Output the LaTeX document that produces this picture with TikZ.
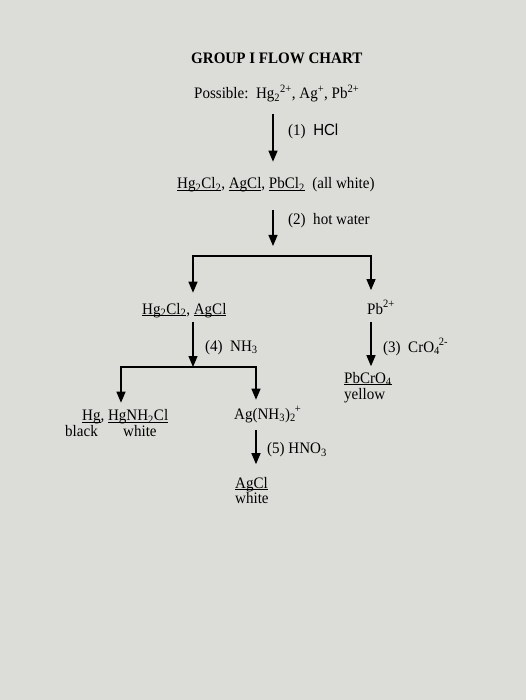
\documentclass[tikz,border=0pt]{standalone}
\usepackage{fontspec}
\setmainfont{Liberation Serif}[FakeStretch=0.94]
\newfontfamily\sanslab{Liberation Sans}[FakeStretch=0.94]
\usetikzlibrary{arrows.meta,positioning}
\definecolor{paper}{RGB}{220,220,216}
\newcommand\chemul[1]{\setbox0\hbox{#1}\rlap{\rule[-2pt]{\wd0}{0.8pt}}\box0}
\tikzset
{
    chem/.style = {inner sep=0pt, anchor=base west, font=\fontsize{16}{19}\selectfont},
    flow/.style = {-{Triangle[length=11pt,width=9pt]}, line width=1.2pt},
    branch/.style = {{Triangle[length=11pt,width=9pt]}-{Triangle[length=11pt,width=9pt]}, line width=1.2pt, line join=miter}
}
\begin{document}
\begin{tikzpicture}[x=1pt,y=-1pt]
\fill[paper] (0,0) rectangle (526,700);
\useasboundingbox (0,0) rectangle (526,700);
\node [chem] (title) at (191,64) {\textbf{GROUP I FLOW CHART}};
\node [chem] (possible) at (194,99) {Possible:\ \ Hg\textsubscript{2}\textsuperscript{2+}, Ag\textsuperscript{+}, Pb\textsuperscript{2+}};
\node [chem] (chlorides) at (177,189) {\chemul{Hg\textsubscript{2}Cl\textsubscript{2}}, \chemul{AgCl}, \chemul{PbCl\textsubscript{2}}\ \ (all white)};
\node [chem] (hgagcl) at (142,314) {\chemul{Hg\textsubscript{2}Cl\textsubscript{2}}, \chemul{AgCl}};
\node [chem] (pb) at (367,314) {Pb\textsuperscript{2+}};
\node [chem] (pbcro4) at (344,383) {\chemul{PbCrO\textsubscript{4}}};
\node [chem] (yellow) at (344,399) {yellow};
\node [chem] (hg) at (82,420.5) {\chemul{Hg}, \chemul{HgNH\textsubscript{2}Cl}};
\node [chem] (black) at (65,436.5) {black};
\node [chem] (hgwhite) at (123,436.5) {white};
\node [chem] (agnh) at (234,419) {Ag(NH\textsubscript{3})\textsubscript{2}\kern-1pt\textsuperscript{+}};
\node [chem] (agcl) at (235,488) {\chemul{AgCl}};
\node [chem] (agwhite) at (235,503) {white};
\node [chem] (hcl) at (288,136) {(1)\ \ {\sanslab HCl}};
\node [chem] (hot) at (288,225) {(2)\ \ hot water};
\node [chem] (nh3) at (205,351) {(4)\ \ NH\textsubscript{3}};
\node [chem] (cro4) at (383,352) {(3)\ \ CrO\textsubscript{4}\kern-1pt\textsuperscript{2-}};
\node [chem] (hno3) at (267,453.5) {(5) HNO\textsubscript{3}};
\coordinate (col1) at (273,0);
\coordinate (j1) at (273,256);
\coordinate (lb1) at (193,256);
\coordinate (rb1) at (371,256);
\coordinate (lb2) at (121,367);
\coordinate (j2) at (193,367);
\coordinate (rb2) at (256,367);
\draw [flow, shorten <=11.5pt, shorten >=16pt] (possible.south -| col1) -- (chlorides.north -| col1);
\draw [flow, shorten <=17.5pt, shorten >=10pt] (chlorides.south -| col1) -- (j1);
\draw [branch, shorten <=10pt, shorten >=10pt] (hgagcl.north -| lb1) -- (lb1) -- (rb1) -- (pb.north -| rb1);
\draw [flow, shorten <=4.5pt] (hgagcl.south -| lb1) -- (j2);
\draw [branch, shorten <=6.5pt, shorten >=6.5pt] (hg.north -| lb2) -- (lb2) -- (rb2) -- (agnh.north -| rb2);
\draw [flow, shorten <=8pt, shorten >=5.5pt] (pb.south -| rb1) -- (pbcro4.north -| rb1);
\draw [flow, shorten <=7.5pt, shorten >=12.5pt] (agnh.south -| rb2) -- (agcl.north -| rb2);
\end{tikzpicture}
\end{document}
